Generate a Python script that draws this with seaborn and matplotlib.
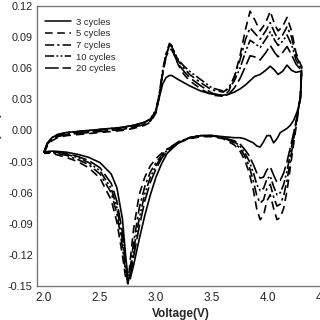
import numpy as np
import pandas as pd
import matplotlib
matplotlib.use('Agg')
import matplotlib.pyplot as plt
from matplotlib.ticker import FormatStrFormatter
import seaborn as sns

# Voltage grids (V): anodic sweep 2.0 -> 4.3, cathodic sweep 4.3 -> 2.0
anodic_v = [2.00, 2.03, 2.07, 2.12, 2.20, 2.30, 2.40, 2.50, 2.60, 2.70, 2.80, 2.90, 2.95,
            3.00, 3.03, 3.06, 3.09, 3.12, 3.14, 3.17, 3.20, 3.25, 3.30, 3.40, 3.50, 3.60,
            3.65, 3.70, 3.75, 3.80, 3.84, 3.88, 3.93, 3.98, 4.02, 4.06, 4.09, 4.13, 4.17,
            4.21, 4.25, 4.29, 4.30]
cathodic_v = [4.30, 4.29, 4.26, 4.23, 4.20, 4.17, 4.14, 4.11, 4.08, 4.05, 4.02, 3.99, 3.96,
              3.93, 3.90, 3.87, 3.83, 3.79, 3.75, 3.70, 3.60, 3.50, 3.40, 3.30, 3.20, 3.10,
              3.05, 3.00, 2.95, 2.90, 2.85, 2.80, 2.77, 2.75, 2.73, 2.70, 2.65, 2.60, 2.50,
              2.40, 2.30, 2.20, 2.10, 2.05, 2.00]

labels = ['3 cycles', '5 cycles', '7 cycles', '10 cycles', '20 cycles']

# Current (mA)
anodic_i = {
    '3 cycles': [-0.021, -0.012, -0.007, -0.004, -0.002, -0.001, 0.000, 0.001, 0.002, 0.003, 0.005, 0.008, 0.011,
                 0.019, 0.032, 0.045, 0.051, 0.053, 0.053, 0.051, 0.049, 0.046, 0.043, 0.038, 0.035, 0.034,
                 0.035, 0.037, 0.040, 0.044, 0.048, 0.052, 0.054, 0.058, 0.062, 0.058, 0.054, 0.057, 0.063,
                 0.058, 0.056, 0.057, 0.057],
    '5 cycles': [-0.022, -0.015, -0.010, -0.007, -0.005, -0.004, -0.003, -0.002, -0.001, 0.000, 0.002, 0.005, 0.008,
                 0.017, 0.033, 0.055, 0.072, 0.082, 0.081, 0.071, 0.063, 0.054, 0.048, 0.040, 0.034, 0.033,
                 0.038, 0.052, 0.072, 0.098, 0.115, 0.107, 0.096, 0.104, 0.115, 0.102, 0.096, 0.100, 0.109,
                 0.096, 0.075, 0.064, 0.062],
    '7 cycles': [-0.021, -0.013, -0.008, -0.005, -0.003, -0.002, -0.001, 0.000, 0.001, 0.002, 0.004, 0.007, 0.010,
                 0.019, 0.035, 0.057, 0.074, 0.084, 0.082, 0.074, 0.067, 0.060, 0.054, 0.046, 0.039, 0.037,
                 0.041, 0.052, 0.068, 0.088, 0.099, 0.094, 0.088, 0.096, 0.104, 0.094, 0.088, 0.092, 0.100,
                 0.090, 0.072, 0.063, 0.061],
    '10 cycles': [-0.021, -0.012, -0.007, -0.004, -0.002, -0.001, 0.000, 0.001, 0.002, 0.003, 0.005, 0.008, 0.011,
                  0.020, 0.036, 0.058, 0.074, 0.082, 0.081, 0.074, 0.068, 0.062, 0.057, 0.049, 0.041, 0.038,
                  0.040, 0.048, 0.060, 0.076, 0.087, 0.084, 0.080, 0.088, 0.095, 0.087, 0.082, 0.086, 0.092,
                  0.083, 0.068, 0.061, 0.060],
    '20 cycles': [-0.021, -0.013, -0.009, -0.006, -0.004, -0.003, -0.002, -0.001, 0.000, 0.001, 0.003, 0.006, 0.009,
                  0.018, 0.034, 0.055, 0.071, 0.078, 0.078, 0.071, 0.064, 0.057, 0.051, 0.043, 0.036, 0.033,
                  0.035, 0.041, 0.050, 0.062, 0.072, 0.071, 0.068, 0.075, 0.082, 0.075, 0.071, 0.075, 0.081,
                  0.073, 0.064, 0.059, 0.058],
}
cathodic_i = {
    '3 cycles': [0.057, 0.030, 0.018, 0.010, 0.005, 0.002, 0.000, -0.002, -0.008, -0.012, -0.005, -0.005, -0.011,
                 -0.016, -0.015, -0.012, -0.010, -0.008, -0.007, -0.007, -0.006, -0.005, -0.005, -0.007, -0.012,
                 -0.022, -0.032, -0.045, -0.062, -0.082, -0.105, -0.130, -0.143, -0.142, -0.122, -0.085,
                 -0.055, -0.042, -0.031, -0.026, -0.023, -0.021, -0.020, -0.020, -0.021],
    '5 cycles': [0.062, 0.035, 0.010, -0.012, -0.035, -0.058, -0.075, -0.084, -0.086, -0.075, -0.062, -0.068, -0.082,
                 -0.086, -0.076, -0.058, -0.040, -0.028, -0.020, -0.014, -0.008, -0.006, -0.006, -0.008, -0.012,
                 -0.018, -0.022, -0.027, -0.034, -0.045, -0.062, -0.095, -0.125, -0.148, -0.143, -0.120,
                 -0.088, -0.067, -0.046, -0.036, -0.030, -0.026, -0.023, -0.022, -0.022],
    '7 cycles': [0.061, 0.034, 0.012, -0.008, -0.028, -0.048, -0.063, -0.071, -0.073, -0.064, -0.052, -0.056, -0.067,
                 -0.070, -0.063, -0.049, -0.034, -0.024, -0.017, -0.012, -0.007, -0.005, -0.005, -0.007, -0.011,
                 -0.018, -0.024, -0.031, -0.040, -0.054, -0.075, -0.108, -0.133, -0.147, -0.138, -0.112,
                 -0.080, -0.060, -0.042, -0.033, -0.028, -0.024, -0.022, -0.021, -0.021],
    '10 cycles': [0.060, 0.033, 0.013, -0.005, -0.022, -0.039, -0.052, -0.060, -0.062, -0.054, -0.044, -0.047, -0.056,
                  -0.058, -0.052, -0.041, -0.029, -0.021, -0.015, -0.011, -0.007, -0.005, -0.005, -0.007, -0.011,
                  -0.019, -0.025, -0.034, -0.045, -0.061, -0.085, -0.115, -0.138, -0.147, -0.135, -0.105,
                  -0.074, -0.056, -0.039, -0.031, -0.026, -0.023, -0.021, -0.021, -0.021],
    '20 cycles': [0.058, 0.032, 0.014, -0.002, -0.016, -0.030, -0.041, -0.048, -0.050, -0.043, -0.035, -0.038, -0.045,
                  -0.046, -0.041, -0.033, -0.024, -0.018, -0.013, -0.010, -0.007, -0.005, -0.005, -0.007, -0.012,
                  -0.020, -0.027, -0.037, -0.050, -0.068, -0.093, -0.122, -0.140, -0.145, -0.130, -0.098,
                  -0.068, -0.051, -0.036, -0.029, -0.025, -0.022, -0.021, -0.021, -0.021],
}

styles = {
    '3 cycles': '-',
    '5 cycles': (0, (5, 3)),
    '7 cycles': (0, (6, 2, 1.5, 2)),
    '10 cycles': (0, (6, 1.5, 1.2, 1.5, 1.2, 1.5)),
    '20 cycles': (0, (9, 2.5)),
}

rows = []
for lab in labels:
    v = anodic_v + cathodic_v
    i = anodic_i[lab] + cathodic_i[lab]
    assert len(v) == len(i), lab
    for k, (vv, ii) in enumerate(zip(v, i)):
        rows.append((lab, k, vv, ii))
df = pd.DataFrame(rows, columns=['cycles', 'order', 'Voltage', 'Current'])

sns.set_style('white')
plt.rcParams['font.family'] = ['Liberation Sans', 'DejaVu Sans']
plt.rcParams['axes.unicode_minus'] = True

fig = plt.figure(figsize=(3.2, 3.2), dpi=100)
ax = fig.add_axes([37/320, 1 - 286/320, 287/320, 280/320])

for lab in labels:
    sub = df[df['cycles'] == lab]
    sns.lineplot(data=sub, x='Voltage', y='Current', sort=False, estimator=None,
                 color='k', linewidth=1.2, linestyle=styles[lab], label=lab, ax=ax)

ax.set_xlim(1.9375, 4.5)
ax.set_ylim(-0.15, 0.12)
ax.set_xticks([2.0, 2.5, 3.0, 3.5, 4.0, 4.5])
ax.set_yticks(np.round(np.arange(-0.15, 0.121, 0.03), 2))
ax.xaxis.set_major_formatter(FormatStrFormatter('%.1f'))
ax.yaxis.set_major_formatter(FormatStrFormatter('%.2f'))
ax.tick_params(direction='in', length=3, width=0.8, color='#777777',
               labelcolor='#222222')
ax.tick_params(axis='x', labelsize=8.5, pad=4)
ax.tick_params(axis='y', labelsize=7.8, pad=3)
for s in ax.spines.values():
    s.set_color('#777777')
    s.set_linewidth(1.0)

ax.set_xlabel('Voltage(V)', fontsize=8.5, fontweight='bold', labelpad=3)
ax.set_ylabel('Current(mA)', fontsize=8.5, fontweight='bold')
ax.yaxis.set_label_coords(-0.122, 0.5)

leg = ax.legend(loc='upper left', bbox_to_anchor=(0.0, 0.985), frameon=False,
                fontsize=6.8, handlelength=2.8, handletextpad=0.5, labelspacing=0.28,
                borderaxespad=0.4)
for h in leg.get_lines():
    h.set_linewidth(1.1)

fig.savefig('out.png', dpi=100)
